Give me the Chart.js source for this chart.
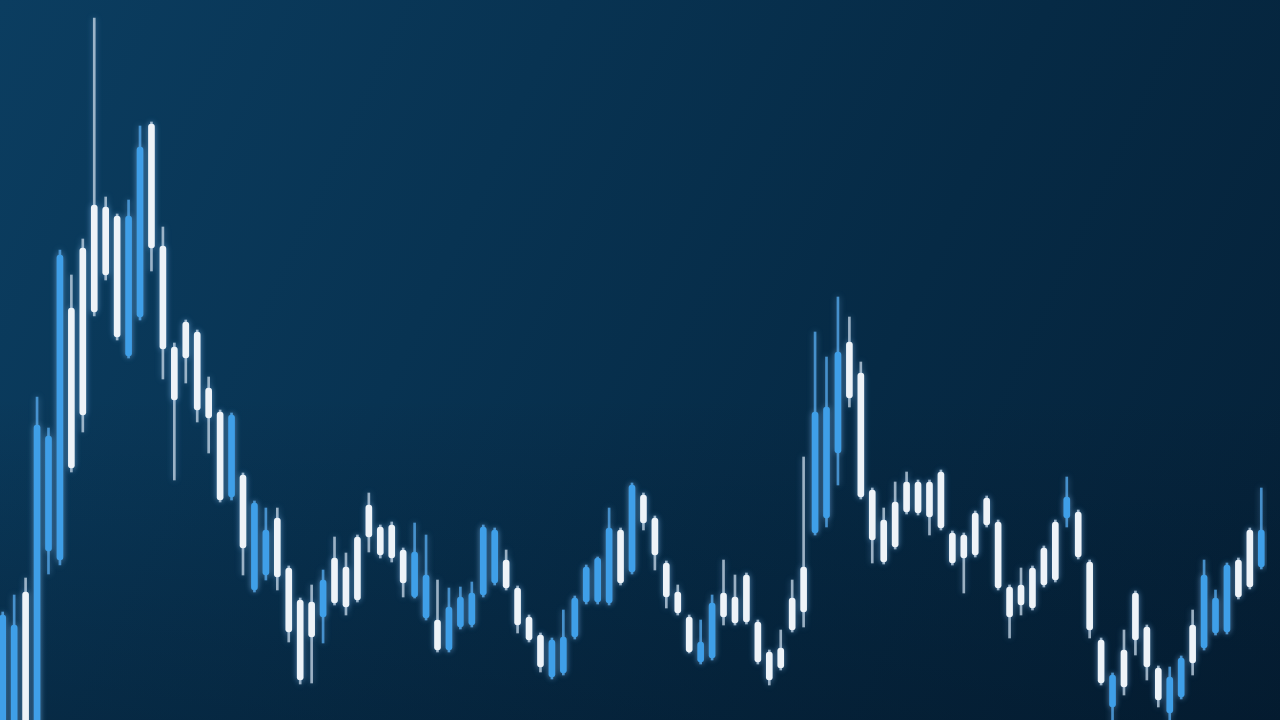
<!DOCTYPE html>
<html>
<head>
<meta charset="utf-8">
<script src="https://cdn.jsdelivr.net/npm/chart.js@4/dist/chart.umd.min.js"></script>
<style>
  html, body { margin: 0; padding: 0; }
  body {
    width: 1280px; height: 720px; overflow: hidden;
    background:
      linear-gradient(180deg, rgba(0,0,0,0) 55%, rgba(2,14,28,0.3) 100%),
      linear-gradient(115deg, #0b3d60 0%, #083352 35%, #062a45 65%, #052138 100%);
  }
  #chart { display: block; margin-left: -3px; }
</style>
</head>
<body>
<canvas id="chart" width="1283" height="720"></canvas>
<script>
// candles, left to right (blue = up, white = down)
const opens = [
  -5, -10, 128, -10, 169, 160, 412, 472, 515, 513, 504, 364, 403, 596, 474,
  373, 398, 388, 332, 308, 223, 245, 130, 145, 202, 152, 120, 118, 103,
  162, 153, 183, 215, 193, 195, 170, 123, 102, 100, 70, 93, 95, 125,
  137, 160, 132, 103, 85, 43, 47, 83, 118, 118, 117, 190, 148, 225,
  202, 157, 128, 103, 58, 62, 127, 123, 145, 98, 68, 72, 122, 153,
  187, 202, 267, 378, 347, 230, 200, 218, 238, 238, 238, 248, 187,
  185, 207, 222, 198, 133, 135, 152, 172, 198, 202, 208, 158, 80,
  13, 70, 127, 93, 52, 7, 23, 95, 72, 87, 88, 160, 190, 153
];
const closes = [
  105, 95, -10, 295, 284, 465, 252, 305, 408, 445, 383, 504, 573, 472, 371,
  320, 362, 310, 302, 220, 305, 172, 217, 190, 143, 88, 40, 83, 140,
  117, 113, 120, 183, 165, 162, 137, 168, 145, 70, 113, 123, 127, 193,
  190, 132, 95, 80, 53, 80, 83, 122, 153, 162, 192, 137, 235, 197,
  165, 123, 107, 68, 78, 117, 103, 97, 98, 58, 40, 52, 90, 108,
  308, 313, 368, 322, 223, 180, 158, 173, 208, 207, 203, 192, 157,
  162, 165, 195, 132, 103, 115, 112, 135, 140, 223, 163, 90, 37,
  45, 33, 80, 53, 20, 43, 62, 57, 145, 122, 155, 123, 133, 190
];
const highs = [
  108, 125, 142, 323, 292, 470, 445, 481, 702, 523, 506, 520, 594, 598, 493,
  377, 400, 390, 343, 310, 307, 247, 219, 212, 212, 154, 122, 135, 150,
  183, 167, 185, 227, 195, 198, 172, 197, 185, 140, 132, 133, 138, 195,
  192, 170, 134, 105, 87, 82, 110, 124, 155, 163, 212, 192, 237, 227,
  204, 159, 135, 105, 100, 125, 160, 145, 147, 100, 70, 90, 140, 263,
  388, 363, 423, 403, 358, 232, 212, 238, 248, 240, 240, 250, 189,
  187, 209, 224, 200, 135, 152, 154, 174, 200, 243, 210, 160, 82,
  47, 90, 129, 95, 54, 53, 64, 110, 160, 130, 157, 162, 192, 232
];
const lows = [
  -5, -10, -10, -10, 146, 155, 248, 288, 404, 440, 380, 362, 400, 449, 341,
  240, 337, 298, 267, 218, 220, 145, 128, 140, 130, 78, 36, 37, 77,
  115, 105, 118, 168, 162, 158, 123, 122, 100, 68, 68, 91, 93, 123,
  135, 130, 87, 78, 48, 41, 45, 81, 116, 116, 115, 135, 146, 190,
  150, 112, 105, 67, 56, 60, 95, 95, 96, 56, 35, 50, 88, 93,
  185, 193, 235, 313, 221, 157, 156, 171, 206, 205, 185, 190, 155,
  127, 163, 193, 130, 82, 105, 110, 133, 138, 193, 161, 82, 35,
  -5, 25, 65, 40, 13, -5, 21, 45, 70, 85, 86, 121, 131, 151
];
const labels = opens.map((_, i) => 'D' + (i + 1));

const upBody = '#3f9fe8';
const downBody = '#eef3f8';
const upWick = 'rgba(80,160,225,0.85)';
const downWick = 'rgba(190,208,224,0.8)';
const isUp = opens.map((o, i) => closes[i] > o);

const glow = {
  id: 'glow',
  beforeDatasetsDraw(chart) {
    const ctx = chart.ctx;
    ctx.save();
    ctx.shadowColor = 'rgba(140,200,255,0.45)';
    ctx.shadowBlur = 6;
  },
  afterDatasetsDraw(chart) {
    chart.ctx.restore();
  }
};

new Chart(document.getElementById('chart').getContext('2d'), {
  type: 'bar',
  data: {
    labels: labels,
    datasets: [
      {
        label: 'wick',
        data: highs.map((h, i) => [lows[i], h]),
        backgroundColor: isUp.map(u => u ? upWick : downWick),
        barThickness: 2,
        grouped: false,
        order: 2
      },
      {
        label: 'body',
        data: opens.map((o, i) => [o, closes[i]]),
        backgroundColor: isUp.map(u => u ? upBody : downBody),
        barThickness: 6,
        borderRadius: 3,
        borderSkipped: false,
        grouped: false,
        order: 1
      }
    ]
  },
  options: {
    responsive: false,
    animation: false,
    layout: { padding: { left: 0, right: 13, top: 0, bottom: 0 } },
    plugins: {
      legend: { display: false },
      tooltip: { enabled: false }
    },
    scales: {
      x: { display: false, offset: true },
      y: { display: false, min: 0, max: 720 }
    }
  },
  plugins: [glow]
});
</script>
</body>
</html>
